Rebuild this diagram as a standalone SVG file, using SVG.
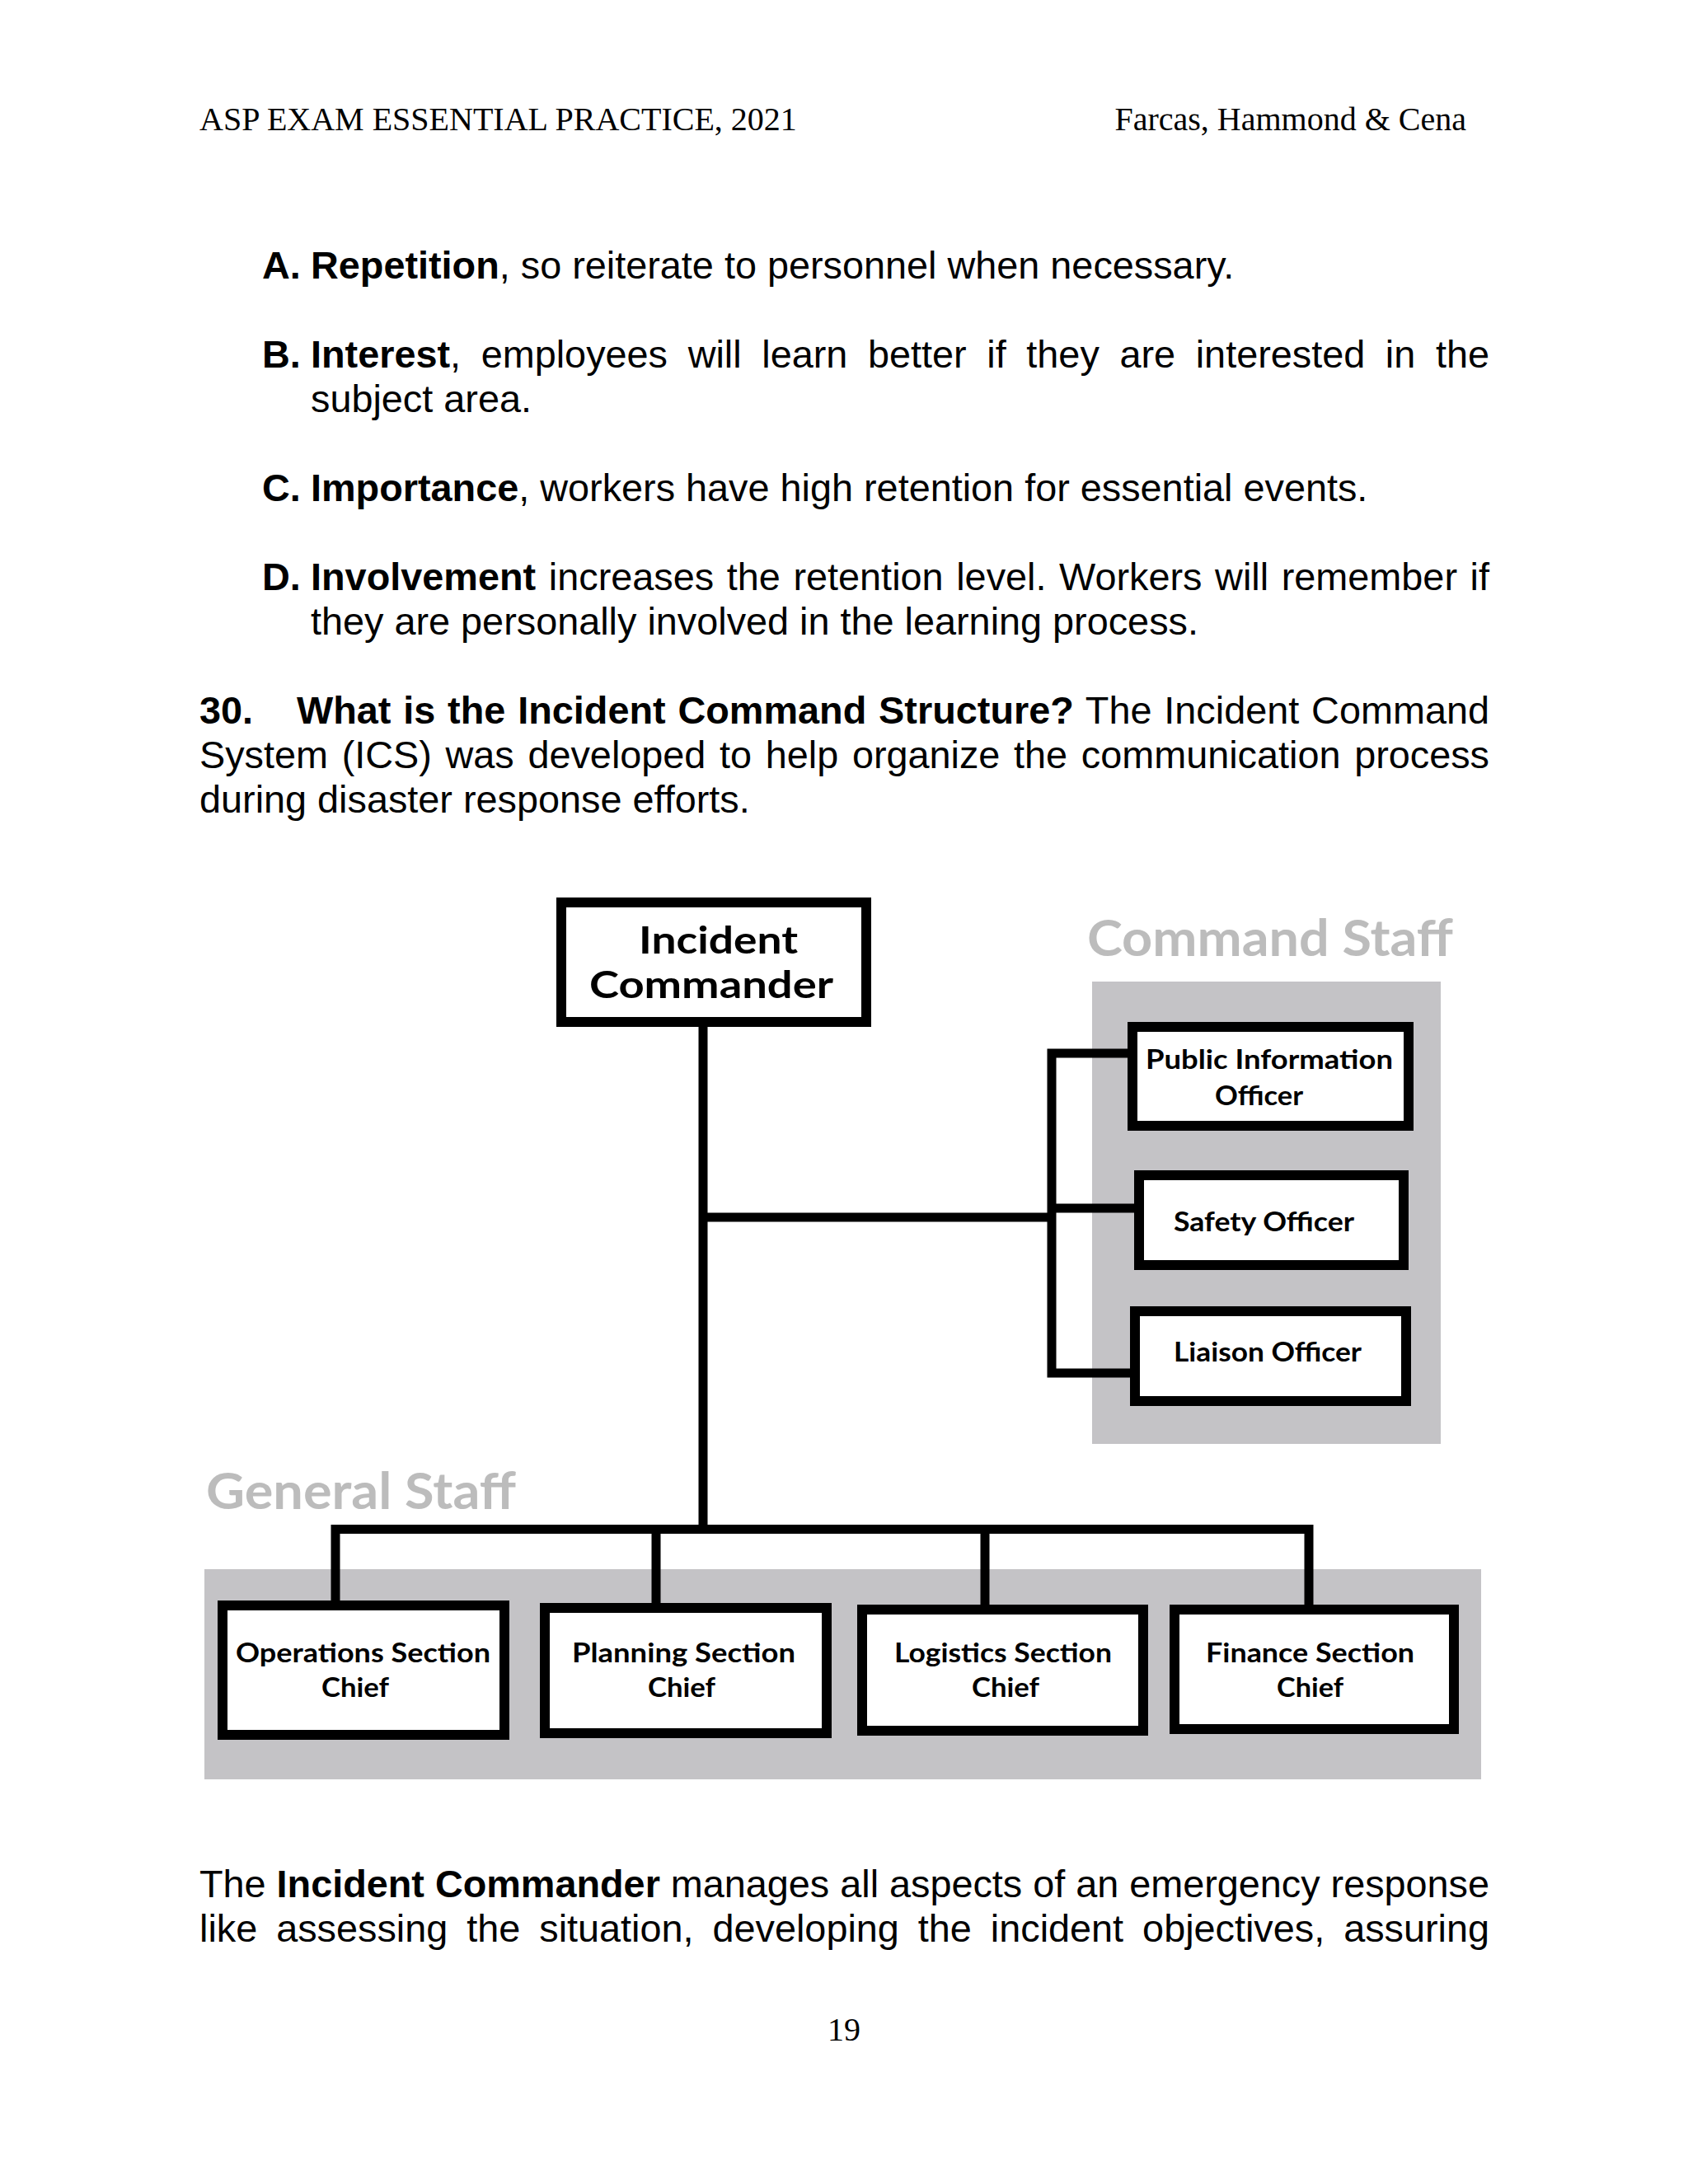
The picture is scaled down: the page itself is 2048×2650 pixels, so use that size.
<svg xmlns="http://www.w3.org/2000/svg" width="2048" height="2650" viewBox="0 0 2048 2650">
<style>
.hdr{font-family:"Liberation Serif","Times New Roman",serif;font-size:40px;fill:#000}
.body{font-family:"Liberation Sans",Arial,sans-serif;font-size:46.8px;fill:#000}
.b{font-weight:bold}
.panel{fill:#c4c3c6}
.lbl{font-family:Lato,"Open Sans",sans-serif;font-weight:bold;font-size:62px;fill:#bcbcbc}
.box{fill:#fff;stroke:#000;stroke-width:12}
.nt{font-family:Lato,"Open Sans",sans-serif;font-weight:bold;fill:#000}
.conn{fill:none;stroke:#000;stroke-width:11;stroke-linejoin:miter;stroke-linecap:butt}
</style>
<rect width="2048" height="2650" fill="#fff"/>
<g id="page-text">
<text class="hdr" x="242" y="158">ASP EXAM ESSENTIAL PRACTICE, 2021</text>
<text class="hdr" x="1779" y="158" text-anchor="end">Farcas, Hammond &amp; Cena</text>
<text class="body b" x="318" y="338">A.</text>
<text class="body" x="377" y="338"><tspan class="b">Repetition</tspan>, so reiterate to personnel when necessary.</text>
<text class="body b" x="318" y="446">B.</text>
<text class="body" x="377" y="446" style="word-spacing:11.65px" textLength="1430" lengthAdjust="spacing"><tspan class="b">Interest</tspan>, employees will learn better if they are interested in the</text>
<text class="body" x="377" y="500">subject area.</text>
<text class="body b" x="318" y="608">C.</text>
<text class="body" x="377" y="608"><tspan class="b">Importance</tspan>, workers have high retention for essential events.</text>
<text class="body b" x="318" y="716">D.</text>
<text class="body" x="377" y="716" style="word-spacing:2.56px" textLength="1430" lengthAdjust="spacing"><tspan class="b">Involvement</tspan> increases the retention level. Workers will remember if</text>
<text class="body" x="377" y="770">they are personally involved in the learning process.</text>
<text class="body b" x="242" y="878">30.</text>
<text class="body" x="360" y="878" style="word-spacing:1.8px" textLength="1447" lengthAdjust="spacing"><tspan class="b">What is the Incident Command Structure?</tspan> The Incident Command</text>
<text class="body" x="242" y="932" style="word-spacing:3.67px" textLength="1565" lengthAdjust="spacing">System (ICS) was developed to help organize the communication process</text>
<text class="body" x="242" y="986">during disaster response efforts.</text>
<text class="body" x="242" y="2302" textLength="1565" lengthAdjust="spacing">The <tspan class="b">Incident Commander</tspan> manages all aspects of an emergency response</text>
<text class="body" x="242" y="2356" style="word-spacing:10px" textLength="1565" lengthAdjust="spacing">like assessing the situation, developing the incident objectives, assuring</text>
<text class="hdr" x="1024" y="2476" text-anchor="middle">19</text>
</g>
<g id="panels">
<rect class="panel" x="1325" y="1191" width="423" height="561"/>
<rect class="panel" x="248" y="1904" width="1549" height="255"/>
<text class="lbl" x="1319" y="1160" textLength="444" lengthAdjust="spacingAndGlyphs">Command Staff</text>
<text class="lbl" x="250" y="1831" textLength="376" lengthAdjust="spacingAndGlyphs">General Staff</text>
</g>
<g id="connectors">
<path class="conn" d="M853 1246 V1861"/>
<path class="conn" d="M853 1477 H1281"/>
<path class="conn" d="M1368 1278 H1276 V1666 H1371"/>
<path class="conn" d="M1276 1466 H1376"/>
<path class="conn" d="M407 1942 V1855.5 H1588 V1947"/>
<path class="conn" d="M796 1855 V1945"/>
<path class="conn" d="M1195 1855 V1947"/>
</g>
<g id="node-incident-commander">
<rect class="box" x="681" y="1095" width="370" height="145"/>
<text class="nt" font-size="45" x="775" y="1157" textLength="193" lengthAdjust="spacingAndGlyphs">Incident</text>
<text class="nt" font-size="45" x="715" y="1211" textLength="296" lengthAdjust="spacingAndGlyphs">Commander</text>
</g>
<g id="node-public-information-officer">
<rect class="box" x="1374" y="1246" width="335" height="120"/>
<text class="nt" font-size="32" x="1390" y="1297" textLength="300" lengthAdjust="spacingAndGlyphs">Public Information</text>
<text class="nt" font-size="32" x="1474" y="1341" textLength="107" lengthAdjust="spacingAndGlyphs">Officer</text>
</g>
<g id="node-safety-officer">
<rect class="box" x="1382" y="1426" width="321" height="109"/>
<text class="nt" font-size="32" x="1424" y="1494" textLength="219" lengthAdjust="spacingAndGlyphs">Safety Officer</text>
</g>
<g id="node-liaison-officer">
<rect class="box" x="1377" y="1591" width="329" height="109"/>
<text class="nt" font-size="32" x="1424" y="1652" textLength="228" lengthAdjust="spacingAndGlyphs">Liaison Officer</text>
</g>
<g id="node-operations">
<rect class="box" x="270" y="1948" width="342" height="157"/>
<text class="nt" font-size="33" x="286" y="2017" textLength="309" lengthAdjust="spacingAndGlyphs">Operations Section</text>
<text class="nt" font-size="33" x="390" y="2059" textLength="82" lengthAdjust="spacingAndGlyphs">Chief</text>
</g>
<g id="node-planning">
<rect class="box" x="661" y="1951" width="342" height="152"/>
<text class="nt" font-size="33" x="694" y="2017" textLength="271" lengthAdjust="spacingAndGlyphs">Planning Section</text>
<text class="nt" font-size="33" x="786" y="2059" textLength="82" lengthAdjust="spacingAndGlyphs">Chief</text>
</g>
<g id="node-logistics">
<rect class="box" x="1046" y="1953" width="341" height="147"/>
<text class="nt" font-size="33" x="1085" y="2017" textLength="264" lengthAdjust="spacingAndGlyphs">Logistics Section</text>
<text class="nt" font-size="33" x="1179" y="2059" textLength="82" lengthAdjust="spacingAndGlyphs">Chief</text>
</g>
<g id="node-finance">
<rect class="box" x="1425" y="1953" width="339" height="145"/>
<text class="nt" font-size="33" x="1463" y="2017" textLength="253" lengthAdjust="spacingAndGlyphs">Finance Section</text>
<text class="nt" font-size="33" x="1549" y="2059" textLength="81" lengthAdjust="spacingAndGlyphs">Chief</text>
</g>
</svg>
